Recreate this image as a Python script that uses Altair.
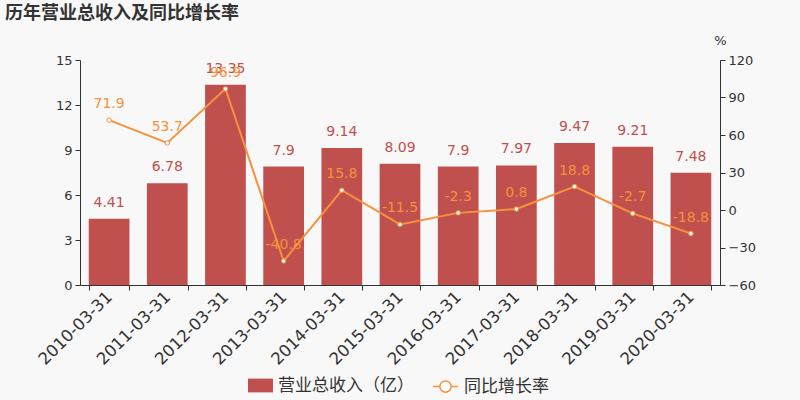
import altair as alt
import pandas as pd

dates = ["2010-03-31", "2011-03-31", "2012-03-31", "2013-03-31", "2014-03-31", "2015-03-31",
         "2016-03-31", "2017-03-31", "2018-03-31", "2019-03-31", "2020-03-31"]
revenue = [4.41, 6.78, 13.35, 7.9, 9.14, 8.09, 7.9, 7.97, 9.47, 9.21, 7.48]
growth = [71.9, 53.7, 96.9, -40.8, 15.8, -11.5, -2.3, 0.8, 18.8, -2.7, -18.8]
rev_labels = ["4.41", "6.78", "13.35", "7.9", "9.14", "8.09", "7.9", "7.97", "9.47", "9.21", "7.48"]
growth_labels = ["71.9", "53.7", "96.9", "-40.8", "15.8", "-11.5", "-2.3", "0.8", "18.8", "-2.7", "-18.8"]
rev_ticks = [0, 3, 6, 9, 12, 15]
growth_ticks = [-60, -30, 0, 30, 60, 90, 120]
rev_name = "营业总收入（亿）"
growth_name = "同比增长率"
title_text = "历年营业总收入及同比增长率"

RED = "#c0504d"
ORANGE = "#f7913d"
FONT = "DejaVu Sans, Noto Sans CJK SC, sans-serif"
CJK = "Noto Sans CJK SC, DejaVu Sans, sans-serif"

df = pd.DataFrame({
    "date": dates, "revenue": revenue, "growth": growth,
    "rev_label": rev_labels, "growth_label": growth_labels,
    "rev_name": [rev_name] * len(dates), "growth_name": [growth_name] * len(dates),
})

x = alt.X("date:N", sort=None, title=None,
          scale=alt.Scale(paddingInner=0.3, paddingOuter=0.15),
          axis=alt.Axis(labelAngle=-45, labelFontSize=16.5, labelColor="#333", labelFont=FONT,
                        domainColor="#333", tickColor="#333", tickBand="extent", tickSize=5,
                        labelAlign="right", labelBaseline="middle", labelPadding=4,
                        labelOverlap=False))

yl = alt.Y("revenue:Q", title=None, scale=alt.Scale(domain=[0, 15], nice=False),
           axis=alt.Axis(values=rev_ticks, grid=False, labelFontSize=13,
                         labelColor="#333", labelFont=FONT, domainColor="#333",
                         tickColor="#333", tickSize=5, labelPadding=3, labelOverlap=False))

yr = alt.Y("growth:Q", title="%", scale=alt.Scale(domain=[-60, 120], nice=False),
           axis=alt.Axis(orient="right", values=growth_ticks, tickCount=7, grid=False,
                         labelFontSize=13, labelColor="#333", labelFont=FONT,
                         domainColor="#333", tickColor="#333", tickSize=5, labelPadding=3,
                         labelOverlap=False,
                         titleAngle=0, titleX=0, titleY=-20, titleAlign="center",
                         titleBaseline="middle", titleFontWeight="normal", titleFontSize=13,
                         titleColor="#333", titleFont=FONT))

base = alt.Chart(df)

bars = base.mark_bar().encode(
    x=x, y=yl,
    fill=alt.Fill("rev_name:N", scale=alt.Scale(range=[RED]),
                  legend=alt.Legend(title=None, orient="none", legendX=168, legendY=313,
                                    symbolType="M-1,-0.55L1,-0.55L1,0.55L-1,0.55Z",
                                    symbolSize=625, symbolStrokeWidth=0,
                                    labelFontSize=17, labelColor="#333", labelFont=CJK,
                                    labelOffset=5)),
)
bar_text = base.mark_text(dy=-9, fontSize=14, color=RED, font=FONT, baseline="bottom").encode(
    x=x, y=yl, text="rev_label:N")

left = alt.layer(bars, bar_text)

line = base.mark_line(color=ORANGE, strokeWidth=2).encode(
    x=x, y=yr,
    stroke=alt.Stroke("growth_name:N", scale=alt.Scale(range=[ORANGE]),
                      legend=alt.Legend(title=None, orient="none", legendX=352, legendY=313,
                                        symbolType="M-1,0L-0.45,0M0.45,0L1,0M-0.45,0A0.45,0.45,0,1,1,0.45,0A0.45,0.45,0,1,1,-0.45,0Z",
                                        symbolSize=625, symbolStrokeWidth=1.5,
                                        symbolFillColor="white", symbolStrokeColor=ORANGE,
                                        labelFontSize=17, labelColor="#333", labelFont=CJK,
                                        labelOffset=5)),
)
points = base.mark_circle(color="white", stroke=ORANGE, strokeWidth=1, size=20, opacity=1).encode(
    x=x, y=yr)
line_text = base.mark_text(dy=-9, fontSize=14, color=ORANGE, font=FONT, baseline="bottom").encode(
    x=x, y=yr, text="growth_label:N")

right = alt.layer(line, points, line_text)

title = alt.Chart(pd.DataFrame({"t": [title_text]})).mark_text(
    align="left", baseline="middle", fontSize=18, fontWeight="bold", color="#333", font=CJK
).encode(x=alt.value(-75), y=alt.value(-46), text="t:N")

chart = alt.layer(left, right, title).resolve_scale(y="independent").properties(
    width=640, height=225,
    autosize=alt.AutoSizeParams(type="none"),
    padding={"left": 80, "top": 60, "right": 80, "bottom": 115},
    background="#f8f8f8",
).configure_view(stroke=None)

chart.save("out.html", embed_options={"renderer": "svg", "actions": False})
